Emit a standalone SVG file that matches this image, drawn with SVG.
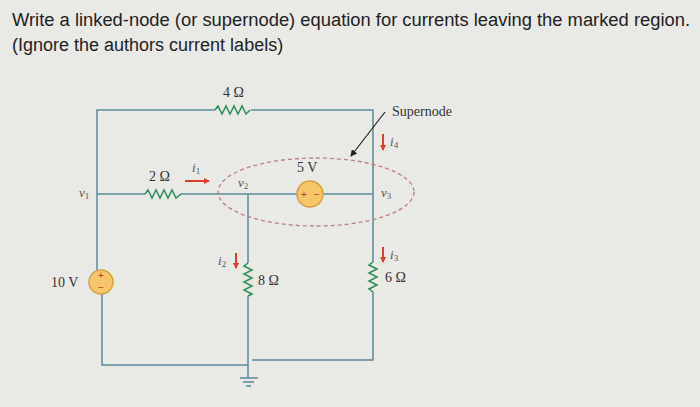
<svg xmlns="http://www.w3.org/2000/svg" width="700" height="407" viewBox="0 0 700 407">
<defs>
<marker id="ah" markerWidth="6" markerHeight="6" refX="5" refY="3" orient="auto" markerUnits="userSpaceOnUse"><path d="M0,0 L6,3 L0,6 z" fill="#d9402b"/></marker>
<marker id="bk" markerWidth="7" markerHeight="7" refX="6" refY="3.5" orient="auto" markerUnits="userSpaceOnUse"><path d="M0,0 L7,3.5 L0,7 z" fill="#222"/></marker>
</defs>
<style>
.w{stroke:#5a8a9a;stroke-width:1.5;fill:none}
.r{stroke:#2e8b57;stroke-width:1.5;fill:none}
.t{font-family:"Liberation Serif",serif;font-size:14px;fill:#333}
.v{font-family:"Liberation Serif",serif;font-style:italic;font-size:13px;fill:#555}
.s{font-size:9px;font-style:normal}
.i{stroke:#d9402b;stroke-width:2;marker-end:url(#ah)}
.src{fill:#f5c76a;stroke:#d9a040;stroke-width:1.5}
.pm{font-family:"Liberation Sans",sans-serif;font-size:10px;fill:#c0392b}
</style>
<rect width="700" height="407" fill="#e9e9e6"/>
<text x="12" y="26" font-family="Liberation Sans,sans-serif" font-size="18" fill="#222" textLength="678" lengthAdjust="spacingAndGlyphs">Write a linked-node (or supernode) equation for currents leaving the marked region.</text>
<text x="12" y="51" font-family="Liberation Sans,sans-serif" font-size="18" fill="#222">(Ignore the authors current labels)</text>
<g id="wires">
<path class="w" d="M97,270 V110 H215 M251,110 H373 V262 M373,292 V360 H252 M248,365 H102 V294"/>
<path class="w" d="M97,194 H145 M181,194 H297 M323,194 H373"/>
<path class="w" d="M248,194 V263 M248,296 V378"/>
<path class="w" d="M240,378 H258 M243,382 H254 M246,386 H251"/>
</g>
<g id="r4"><path class="r" d="M215,110 l3,-4 l4,8 l4,-8 l4,8 l4,-8 l4,8 l4,-8 l4,8 l4,-4"/><text class="t" x="223" y="97">4 Ω</text></g>
<g id="r2"><path class="r" d="M145,194 l3,-4 l4,8 l4,-8 l4,8 l4,-8 l4,8 l4,-8 l4,8 l5,-4"/><text class="t" x="149" y="181">2 Ω</text></g>
<g id="r8"><path class="r" d="M248,263 l-4,3 l8,4 l-8,4 l8,4 l-8,4 l8,4 l-8,4 l8,4 l-4,2"/><text class="t" x="258" y="285">8 Ω</text></g>
<g id="r6"><path class="r" d="M373,262 l-4,3 l8,4 l-8,4 l8,4 l-8,4 l8,4 l-8,4 l4,3"/><text class="t" x="385" y="282">6 Ω</text></g>
<g id="v10"><circle class="src" cx="101" cy="282" r="12"/><text class="pm" x="101" y="279" text-anchor="middle">+</text><text class="pm" x="101" y="291" text-anchor="middle">−</text><text class="t" x="51" y="287">10 V</text></g>
<g id="v5"><circle class="src" cx="310" cy="194" r="13"/><text class="pm" x="304" y="198" text-anchor="middle">+</text><text class="pm" x="317" y="198" text-anchor="middle">−</text><text class="t" x="297" y="172">5 V</text></g>
<g id="supernode">
<ellipse cx="316" cy="192" rx="98" ry="34" fill="none" stroke="#c08080" stroke-width="1.3" stroke-dasharray="4,3"/>
<line x1="385" y1="112" x2="351" y2="156" stroke="#222" stroke-width="1.2" marker-end="url(#bk)"/>
<text class="t" x="392" y="116">Supernode</text>
</g>
<g id="labels">
<text class="v" x="79" y="197">v<tspan class="s" dy="2">1</tspan></text>
<text class="v" x="238" y="187">v<tspan class="s" dy="2">2</tspan></text>
<text class="v" x="381" y="197">v<tspan class="s" dy="2">3</tspan></text>
<line class="i" x1="185" y1="181" x2="209" y2="181"/><text class="v" x="192" y="172">i<tspan class="s" dy="2">1</tspan></text>
<line class="i" x1="236" y1="253" x2="236" y2="268"/><text class="v" x="218" y="265">i<tspan class="s" dy="2">2</tspan></text>
<line class="i" x1="383" y1="247" x2="383" y2="262"/><text class="v" x="390" y="259">i<tspan class="s" dy="2">3</tspan></text>
<line class="i" x1="383" y1="134" x2="383" y2="150"/><text class="v" x="390" y="146">i<tspan class="s" dy="2">4</tspan></text>
</g>
</svg>
